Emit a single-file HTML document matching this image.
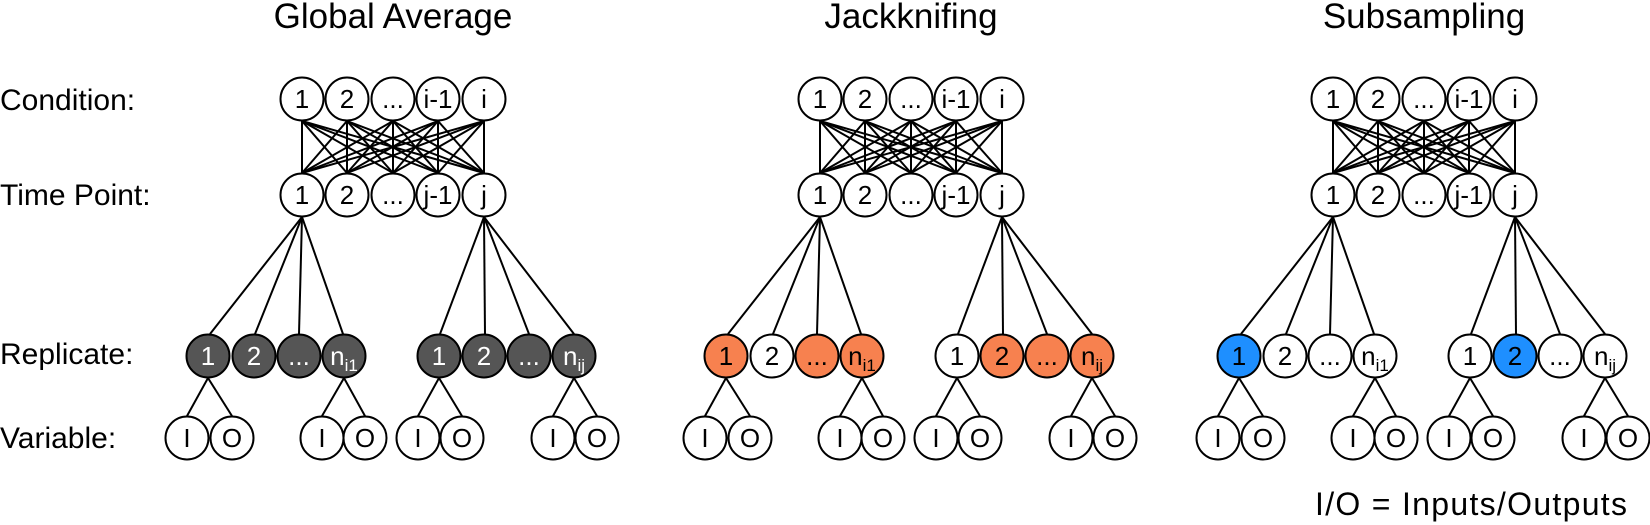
<!DOCTYPE html>
<html><head><meta charset="utf-8"><style>
html,body{margin:0;padding:0;background:#fff;}
svg{display:block;font-family:"Liberation Sans",Arial,sans-serif;}
</style></head><body>
<svg width="1650" height="525" viewBox="0 0 1650 525" xmlns="http://www.w3.org/2000/svg">
<defs>
<g id="L" stroke="#000" stroke-width="2" fill="none">
<line x1="302" y1="121" x2="302" y2="173"/><line x1="302" y1="121" x2="347" y2="173"/><line x1="302" y1="121" x2="393" y2="173"/><line x1="302" y1="121" x2="438" y2="173"/><line x1="302" y1="121" x2="484" y2="173"/>
<line x1="347" y1="121" x2="302" y2="173"/><line x1="347" y1="121" x2="347" y2="173"/><line x1="347" y1="121" x2="393" y2="173"/><line x1="347" y1="121" x2="438" y2="173"/><line x1="347" y1="121" x2="484" y2="173"/>
<line x1="393" y1="121" x2="302" y2="173"/><line x1="393" y1="121" x2="347" y2="173"/><line x1="393" y1="121" x2="393" y2="173"/><line x1="393" y1="121" x2="438" y2="173"/><line x1="393" y1="121" x2="484" y2="173"/>
<line x1="438" y1="121" x2="302" y2="173"/><line x1="438" y1="121" x2="347" y2="173"/><line x1="438" y1="121" x2="393" y2="173"/><line x1="438" y1="121" x2="438" y2="173"/><line x1="438" y1="121" x2="484" y2="173"/>
<line x1="484" y1="121" x2="302" y2="173"/><line x1="484" y1="121" x2="347" y2="173"/><line x1="484" y1="121" x2="393" y2="173"/><line x1="484" y1="121" x2="438" y2="173"/><line x1="484" y1="121" x2="484" y2="173"/>
<line x1="302" y1="217" x2="210" y2="334"/><line x1="302" y1="217" x2="255" y2="334"/><line x1="302" y1="217" x2="299" y2="334"/><line x1="302" y1="217" x2="343" y2="334"/>
<line x1="484" y1="217" x2="440" y2="334"/><line x1="484" y1="217" x2="485" y2="334"/><line x1="484" y1="217" x2="529" y2="334"/><line x1="484" y1="217" x2="574" y2="334"/>
<line x1="208" y1="378" x2="187" y2="416"/><line x1="208" y1="378" x2="232" y2="416"/>
<line x1="344" y1="378" x2="322" y2="416"/><line x1="344" y1="378" x2="365" y2="416"/>
<line x1="439" y1="378" x2="418" y2="416"/><line x1="439" y1="378" x2="462" y2="416"/>
<line x1="574" y1="378" x2="553" y2="416"/><line x1="574" y1="378" x2="597" y2="416"/>
</g>
<g id="C" stroke="#000" stroke-width="2" fill="#fff">
<circle cx="302" cy="99" r="21.5"/><circle cx="347" cy="99" r="21.5"/><circle cx="393" cy="99" r="21.5"/><circle cx="438" cy="99" r="21.5"/><circle cx="484" cy="99" r="21.5"/>
<circle cx="302" cy="195" r="21.5"/><circle cx="347" cy="195" r="21.5"/><circle cx="393" cy="195" r="21.5"/><circle cx="438" cy="195" r="21.5"/><circle cx="484" cy="195" r="21.5"/>
<circle cx="187" cy="438" r="21.5"/><circle cx="232" cy="438" r="21.5"/><circle cx="322" cy="438" r="21.5"/><circle cx="365" cy="438" r="21.5"/>
<circle cx="418" cy="438" r="21.5"/><circle cx="462" cy="438" r="21.5"/><circle cx="553" cy="438" r="21.5"/><circle cx="597" cy="438" r="21.5"/>
</g>
</defs>

<g font-size="30" fill="#000">
<text x="0" y="110">Condition:</text>
<text x="0" y="205">Time Point:</text>
<text x="0" y="364">Replicate:</text>
<text x="0" y="448">Variable:</text>
</g>
<g font-size="35" text-anchor="middle">
<text x="393" y="28">Global Average</text>
<text x="911" y="28">Jackknifing</text>
<text x="1424" y="28">Subsampling</text>
</g>
<text x="1315" y="515" font-size="32" textLength="312">I/O = Inputs/Outputs</text>

<!-- Panels -->
<g transform="translate(0,0)">
<use href="#L"/><use href="#C"/>
<g stroke="#000" stroke-width="2" fill="#555">
<circle cx="208" cy="356" r="21.5"/><circle cx="254" cy="356" r="21.5"/><circle cx="299" cy="356" r="21.5"/><circle cx="344" cy="356" r="21.5"/>
<circle cx="439" cy="356" r="21.5"/><circle cx="484" cy="356" r="21.5"/><circle cx="529" cy="356" r="21.5"/><circle cx="574" cy="356" r="21.5"/>
</g>
<g font-size="26" text-anchor="middle" fill="#000">
<text x="302" y="108">1</text><text x="347" y="108">2</text><text x="393" y="108">...</text><text x="438" y="108">i-1</text><text x="484" y="108">i</text>
<text x="302" y="204">1</text><text x="347" y="204">2</text><text x="393" y="204">...</text><text x="438" y="204">j-1</text><text x="484" y="204">j</text>
<text x="187" y="447">I</text><text x="232" y="447">O</text><text x="322" y="447">I</text><text x="365" y="447">O</text>
<text x="418" y="447">I</text><text x="462" y="447">O</text><text x="553" y="447">I</text><text x="597" y="447">O</text>
</g>
<g font-size="26" text-anchor="middle" fill="#fff">
<text x="208" y="365">1</text><text x="254" y="365">2</text><text x="299" y="365">...</text><text x="344" y="365">n<tspan font-size="17" dy="6">i1</tspan></text>
<text x="439" y="365">1</text><text x="484" y="365">2</text><text x="529" y="365">...</text><text x="574" y="365">n<tspan font-size="17" dy="6">ij</tspan></text>
</g>
</g>

<g transform="translate(518,0)">
<use href="#L"/><use href="#C"/>
<g stroke="#000" stroke-width="2">
<circle cx="208" cy="356" r="21.5" fill="#f7814f"/><circle cx="254" cy="356" r="21.5" fill="#fff"/><circle cx="299" cy="356" r="21.5" fill="#f7814f"/><circle cx="344" cy="356" r="21.5" fill="#f7814f"/>
<circle cx="439" cy="356" r="21.5" fill="#fff"/><circle cx="484" cy="356" r="21.5" fill="#f7814f"/><circle cx="529" cy="356" r="21.5" fill="#f7814f"/><circle cx="574" cy="356" r="21.5" fill="#f7814f"/>
</g>
<g font-size="26" text-anchor="middle" fill="#000">
<text x="302" y="108">1</text><text x="347" y="108">2</text><text x="393" y="108">...</text><text x="438" y="108">i-1</text><text x="484" y="108">i</text>
<text x="302" y="204">1</text><text x="347" y="204">2</text><text x="393" y="204">...</text><text x="438" y="204">j-1</text><text x="484" y="204">j</text>
<text x="187" y="447">I</text><text x="232" y="447">O</text><text x="322" y="447">I</text><text x="365" y="447">O</text>
<text x="418" y="447">I</text><text x="462" y="447">O</text><text x="553" y="447">I</text><text x="597" y="447">O</text>
<text x="208" y="365">1</text><text x="254" y="365">2</text><text x="299" y="365">...</text><text x="344" y="365">n<tspan font-size="17" dy="6">i1</tspan></text>
<text x="439" y="365">1</text><text x="484" y="365">2</text><text x="529" y="365">...</text><text x="574" y="365">n<tspan font-size="17" dy="6">ij</tspan></text>
</g>
</g>

<g transform="translate(1031,0)">
<use href="#L"/><use href="#C"/>
<g stroke="#000" stroke-width="2">
<circle cx="208" cy="356" r="21.5" fill="#1e8fff"/><circle cx="254" cy="356" r="21.5" fill="#fff"/><circle cx="299" cy="356" r="21.5" fill="#fff"/><circle cx="344" cy="356" r="21.5" fill="#fff"/>
<circle cx="439" cy="356" r="21.5" fill="#fff"/><circle cx="484" cy="356" r="21.5" fill="#1e8fff"/><circle cx="529" cy="356" r="21.5" fill="#fff"/><circle cx="574" cy="356" r="21.5" fill="#fff"/>
</g>
<g font-size="26" text-anchor="middle" fill="#000">
<text x="302" y="108">1</text><text x="347" y="108">2</text><text x="393" y="108">...</text><text x="438" y="108">i-1</text><text x="484" y="108">i</text>
<text x="302" y="204">1</text><text x="347" y="204">2</text><text x="393" y="204">...</text><text x="438" y="204">j-1</text><text x="484" y="204">j</text>
<text x="187" y="447">I</text><text x="232" y="447">O</text><text x="322" y="447">I</text><text x="365" y="447">O</text>
<text x="418" y="447">I</text><text x="462" y="447">O</text><text x="553" y="447">I</text><text x="597" y="447">O</text>
<text x="208" y="365">1</text><text x="254" y="365">2</text><text x="299" y="365">...</text><text x="344" y="365">n<tspan font-size="17" dy="6">i1</tspan></text>
<text x="439" y="365">1</text><text x="484" y="365">2</text><text x="529" y="365">...</text><text x="574" y="365">n<tspan font-size="17" dy="6">ij</tspan></text>
</g>
</g>
</svg>
</body></html>
